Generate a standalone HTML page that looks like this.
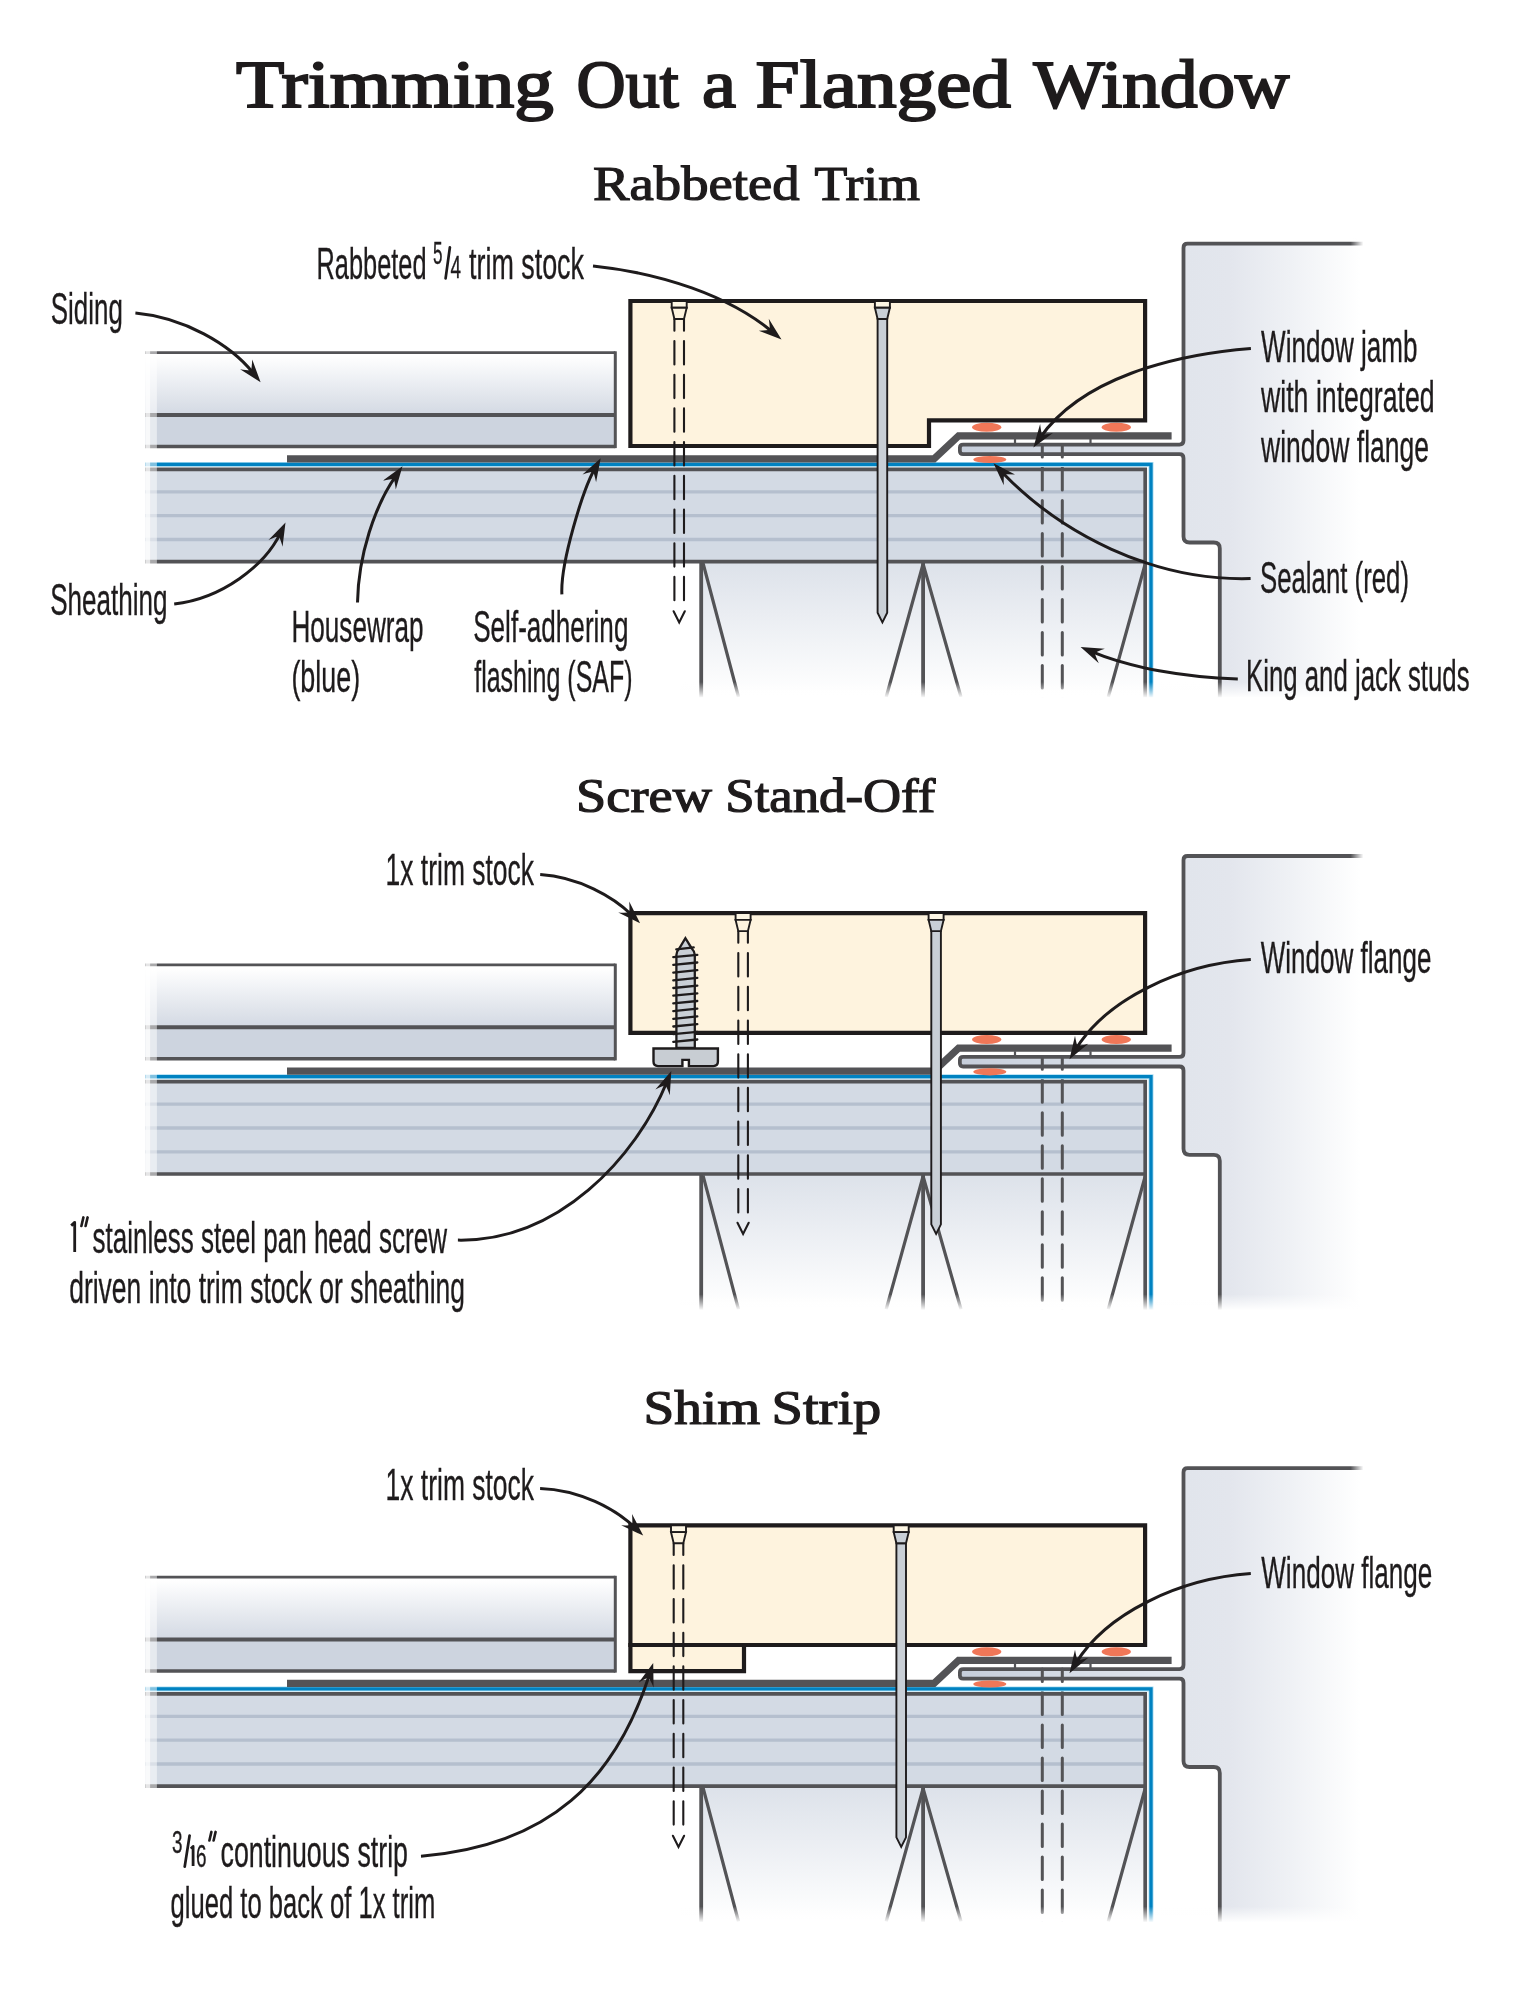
<!DOCTYPE html><html><head><meta charset="utf-8"><title>Trimming Out a Flanged Window</title>
<style>html,body{margin:0;padding:0;background:#fff;width:1523px;height:1999px;overflow:hidden}svg{display:block}text{font-family:"Liberation Sans",sans-serif;fill:#1e1b1c;stroke:#1e1b1c;stroke-width:0.35px}.t{font-family:"Liberation Serif",serif;font-weight:normal;stroke:#1e1b1c;stroke-width:2px}</style></head><body>
<svg width="1523" height="1999" viewBox="0 0 1523 1999">
<defs>
<linearGradient id="gfg" gradientUnits="userSpaceOnUse" x1="962" y1="0" x2="1182" y2="0"><stop offset="0" stop-color="#c6cedb"/><stop offset="0.5" stop-color="#d5dbe5"/><stop offset="1" stop-color="#e3e7ee"/></linearGradient>
<linearGradient id="gj" gradientUnits="userSpaceOnUse" x1="1186" y1="0" x2="1360" y2="0"><stop offset="0" stop-color="#e1e5ec"/><stop offset="0.25" stop-color="#e3e6ed"/><stop offset="0.6" stop-color="#eff1f5"/><stop offset="1" stop-color="#ffffff"/></linearGradient>
<linearGradient id="gs0" gradientUnits="userSpaceOnUse" x1="0" y1="564" x2="0" y2="695"><stop offset="0" stop-color="#dde2ea"/><stop offset="1" stop-color="#ffffff"/></linearGradient>
<linearGradient id="gs1" gradientUnits="userSpaceOnUse" x1="0" y1="1176.3" x2="0" y2="1307.3"><stop offset="0" stop-color="#dde2ea"/><stop offset="1" stop-color="#ffffff"/></linearGradient>
<linearGradient id="gs2" gradientUnits="userSpaceOnUse" x1="0" y1="1788.5" x2="0" y2="1919.5"><stop offset="0" stop-color="#dde2ea"/><stop offset="1" stop-color="#ffffff"/></linearGradient>
<linearGradient id="gsd" x1="0" y1="0" x2="0" y2="1"><stop offset="0.05" stop-color="#ffffff"/><stop offset="1" stop-color="#d3d9e3"/></linearGradient>
<linearGradient id="gfl" x1="0" y1="0" x2="1" y2="0"><stop offset="0.2" stop-color="#fff" stop-opacity="1"/><stop offset="0.9" stop-color="#fff" stop-opacity="0"/></linearGradient>
<linearGradient id="gfb" x1="0" y1="0" x2="0" y2="1"><stop offset="0" stop-color="#fff" stop-opacity="0"/><stop offset="1" stop-color="#fff" stop-opacity="1"/></linearGradient>
<linearGradient id="gfr" x1="0" y1="0" x2="1" y2="0"><stop offset="0.1" stop-color="#fff" stop-opacity="0"/><stop offset="0.9" stop-color="#fff" stop-opacity="1"/></linearGradient>
</defs>
<g style="will-change:transform">
<text class="t" x="236" y="106.5" font-size="68" textLength="317.9" lengthAdjust="spacingAndGlyphs">Trimming</text>
<text class="t" x="576.6" y="106.5" font-size="68" textLength="102" lengthAdjust="spacingAndGlyphs">Out</text>
<text class="t" x="702" y="106.5" font-size="68" textLength="34" lengthAdjust="spacingAndGlyphs">a</text>
<text class="t" x="755.6" y="106.5" font-size="68" textLength="255.4" lengthAdjust="spacingAndGlyphs">Flanged</text>
<text class="t" x="1033.5" y="106.5" font-size="68" textLength="255.9" lengthAdjust="spacingAndGlyphs">Window</text>
<text class="t" style="stroke-width:1.2px" x="593.1" y="200.2" font-size="47.5" textLength="206.6" lengthAdjust="spacingAndGlyphs">Rabbeted</text>
<text class="t" style="stroke-width:1.2px" x="814.6" y="200.2" font-size="47.5" textLength="105.4" lengthAdjust="spacingAndGlyphs">Trim</text>
<text class="t" style="stroke-width:1.2px" x="576.1" y="812" font-size="47.5" textLength="135.8" lengthAdjust="spacingAndGlyphs">Screw</text>
<text class="t" style="stroke-width:1.2px" x="725.3" y="812" font-size="47.5" textLength="210" lengthAdjust="spacingAndGlyphs">Stand-Off</text>
<text class="t" style="stroke-width:1.2px" x="643.4" y="1424" font-size="47.5" textLength="116.8" lengthAdjust="spacingAndGlyphs">Shim</text>
<text class="t" style="stroke-width:1.2px" x="771.5" y="1424" font-size="47.5" textLength="109.8" lengthAdjust="spacingAndGlyphs">Strip</text>
</g>
<path d="M1183.5 243.7 V444.6 H963.1 Q959.9 444.6 959.9 447.8 V451 Q959.9 454.2 963.1 454.2 H1183.5 V542.5 H1219.8 V700 H1400 V243.7 Z" fill="url(#gj)"/>
<rect x="962" y="446" width="219.5" height="7" fill="url(#gfg)"/>
<rect x="701" y="562" width="446" height="138" fill="url(#gs0)"/>
<path d="M701.2 562 V700 M923.1 562 V700" fill="none" stroke="#535356" stroke-width="3.8"/>
<path d="M703 563 L738.5 697 M923.1 564 L886.2 697 M923.1 564 L961 697 M1108.3 697 L1145.2 564" fill="none" stroke="#535356" stroke-width="3.2"/>
<rect x="145.3" y="469.3" width="999.9" height="92.2" fill="#d3dae4"/>
<path d="M140 491.8 H1145" stroke="#b5bfce" stroke-width="3.3"/>
<path d="M140 515.7 H1145" stroke="#b5bfce" stroke-width="3.3"/>
<path d="M140 539.5 H1145" stroke="#b5bfce" stroke-width="3.3"/>
<path d="M140 469.3 H1145.2 V700 M140 561.7 H1145.2" fill="none" stroke="#535356" stroke-width="3.7"/>
<path d="M1042.3 444.6 V700 M1062.3 444.6 V700" fill="none" stroke="#535356" stroke-width="3" stroke-dasharray="22.5 10.5" stroke-dashoffset="10.1" stroke-linecap="round"/>
<path d="M140 464.4 H1151 V700" fill="none" stroke="#a8dcf2" stroke-width="5"/>
<path d="M140 464.4 H1151 V700" fill="none" stroke="#0082c1" stroke-width="3.3"/>
<path d="M287 458.8 H934 L958.6 435.9 H1171.6" fill="none" stroke="#535356" stroke-width="7.2" stroke-linejoin="miter"/>
<rect x="140" y="352.6" width="475.3" height="62.3" fill="url(#gsd)"/>
<rect x="140" y="414.9" width="475.3" height="31.5" fill="#cdd4df"/>
<path d="M140 352.6 H615.3" stroke="#535356" stroke-width="2.6"/>
<path d="M140 414.9 H615.3" stroke="#535356" stroke-width="4"/>
<path d="M140 446.4 H615.3" stroke="#535356" stroke-width="3.5"/>
<path d="M615.3 351.3 V448.1" stroke="#535356" stroke-width="3"/>
<path d="M1365 243.7 H1187.5 Q1183.5 243.7 1183.5 247.7 V440.6 Q1183.5 444.6 1179.5 444.6 H963.1 Q959.9 444.6 959.9 447.8 V451 Q959.9 454.2 963.1 454.2 H1179.5 Q1183.5 454.2 1183.5 458.2 V536.5 Q1183.5 542.5 1189.5 542.5 H1213.8 Q1219.8 542.5 1219.8 548.5 V700" fill="none" stroke="#535356" stroke-width="3.8"/>
<path d="M1015 439 V444 M1090.5 439 V444" stroke="#535356" stroke-width="2.2"/>
<ellipse cx="986.7" cy="427.2" rx="14.6" ry="4.5" fill="#f07758"/>
<ellipse cx="1116.3" cy="427.2" rx="14.6" ry="4.5" fill="#f07758"/>
<ellipse cx="989.8" cy="459.5" rx="16.5" ry="3.6" fill="#f07758"/>
<path d="M630.4 301 H1145.1 V420.3 H929 V446 H630.4 Z" fill="#fef3de" stroke="#1e1b1c" stroke-width="4.2"/>
<path d="M674.4 319 V603.5 M684 319 V603.5" fill="none" stroke="#1e1b1c" stroke-width="2.1" stroke-dasharray="23.4 10.3" stroke-dashoffset="11.7" stroke-linecap="round"/><path d="M673.6 611.3 L679.2 622.5 L684.8 611.3" fill="none" stroke="#1e1b1c" stroke-width="2.1" stroke-linecap="round" stroke-linejoin="miter"/><path d="M671.7 301 H686.7 V307.8 H671.7 Z" fill="#fdf6e4" stroke="#1e1b1c" stroke-width="1.9"/><path d="M671.7 307.8 H686.7 L684 319 H674.4 Z" fill="#fdf3de" stroke="#1e1b1c" stroke-width="1.9"/>
<path d="M877.6 319 V612.7 L882.4 622.3 L887.2 612.7 V319 Z" fill="#c9cfd6" stroke="#1e1b1c" stroke-width="1.9" stroke-linejoin="miter"/><path d="M874.9 301 H889.9 V307.8 H874.9 Z" fill="#fdf6e4" stroke="#1e1b1c" stroke-width="1.9"/><path d="M874.9 307.8 H889.9 L887.2 319 H877.6 Z" fill="#c9cfd6" stroke="#1e1b1c" stroke-width="1.9"/>
<rect x="130" y="345" width="15.3" height="225" fill="#fff"/>
<rect x="145.3" y="345" width="5.1" height="225" fill="#fff" fill-opacity="0.85"/>
<rect x="150.4" y="345" width="6.5" height="225" fill="#fff" fill-opacity="0.5"/>
<rect x="680" y="682" width="720" height="16" fill="url(#gfb)"/>
<rect x="680" y="697.5" width="720" height="10" fill="#fff"/>
<rect x="1349" y="238" width="16" height="12" fill="url(#gfr)"/>
<path d="M1183.5 856 V1056.9 H963.1 Q959.9 1056.9 959.9 1060.1 V1063.3 Q959.9 1066.5 963.1 1066.5 H1183.5 V1154.8 H1219.8 V1312.3 H1400 V856 Z" fill="url(#gj)"/>
<rect x="962" y="1058.3" width="219.5" height="7" fill="url(#gfg)"/>
<rect x="701" y="1174.3" width="446" height="138" fill="url(#gs1)"/>
<path d="M701.2 1174.3 V1312.3 M923.1 1174.3 V1312.3" fill="none" stroke="#535356" stroke-width="3.8"/>
<path d="M703 1175.3 L738.5 1309.3 M923.1 1176.3 L886.2 1309.3 M923.1 1176.3 L961 1309.3 M1108.3 1309.3 L1145.2 1176.3" fill="none" stroke="#535356" stroke-width="3.2"/>
<rect x="145.3" y="1081.6" width="999.9" height="92.2" fill="#d3dae4"/>
<path d="M140 1104.1 H1145" stroke="#b5bfce" stroke-width="3.3"/>
<path d="M140 1128 H1145" stroke="#b5bfce" stroke-width="3.3"/>
<path d="M140 1151.8 H1145" stroke="#b5bfce" stroke-width="3.3"/>
<path d="M140 1081.6 H1145.2 V1312.3 M140 1174 H1145.2" fill="none" stroke="#535356" stroke-width="3.7"/>
<path d="M1042.3 1056.9 V1312.3 M1062.3 1056.9 V1312.3" fill="none" stroke="#535356" stroke-width="3" stroke-dasharray="22.5 10.5" stroke-dashoffset="10.1" stroke-linecap="round"/>
<path d="M140 1076.7 H1151 V1312.3" fill="none" stroke="#a8dcf2" stroke-width="5"/>
<path d="M140 1076.7 H1151 V1312.3" fill="none" stroke="#0082c1" stroke-width="3.3"/>
<path d="M287 1071.1 H934 L958.6 1048.2 H1171.6" fill="none" stroke="#535356" stroke-width="7.2" stroke-linejoin="miter"/>
<rect x="140" y="964.9" width="475.3" height="62.3" fill="url(#gsd)"/>
<rect x="140" y="1027.2" width="475.3" height="31.5" fill="#cdd4df"/>
<path d="M140 964.9 H615.3" stroke="#535356" stroke-width="2.6"/>
<path d="M140 1027.2 H615.3" stroke="#535356" stroke-width="4"/>
<path d="M140 1058.7 H615.3" stroke="#535356" stroke-width="3.5"/>
<path d="M615.3 963.6 V1060.4" stroke="#535356" stroke-width="3"/>
<path d="M1365 856 H1187.5 Q1183.5 856 1183.5 860 V1052.9 Q1183.5 1056.9 1179.5 1056.9 H963.1 Q959.9 1056.9 959.9 1060.1 V1063.3 Q959.9 1066.5 963.1 1066.5 H1179.5 Q1183.5 1066.5 1183.5 1070.5 V1148.8 Q1183.5 1154.8 1189.5 1154.8 H1213.8 Q1219.8 1154.8 1219.8 1160.8 V1312.3" fill="none" stroke="#535356" stroke-width="3.8"/>
<path d="M1015 1051.3 V1056.3 M1090.5 1051.3 V1056.3" stroke="#535356" stroke-width="2.2"/>
<ellipse cx="986.7" cy="1039.5" rx="14.6" ry="4.5" fill="#f07758"/>
<ellipse cx="1116.3" cy="1039.5" rx="14.6" ry="4.5" fill="#f07758"/>
<ellipse cx="989.8" cy="1071.8" rx="16.5" ry="3.6" fill="#f07758"/>
<path d="M630.4 913.1 H1145.1 V1032.8 H630.4 Z" fill="#fef3de" stroke="#1e1b1c" stroke-width="4.2"/>
<path d="M676.4 1048 V955 Q676.4 951.5 679.2 948.5 L685.4 938.2 L691.6 948.2 Q694.8 951.5 694.8 955 V1048 Z" fill="#c9cfd6" stroke="#1e1b1c" stroke-width="2.3"/>
<path d="M676.3 949.3 L693.7 947.3 M673.3 957.2 L697.3 954.8 M673.3 964.9 L697.3 962.5 M673.3 972.6 L697.3 970.2 M673.3 980.3 L697.3 977.9 M673.3 988 L697.3 985.6 M673.3 995.7 L697.3 993.3 M673.3 1003.4 L697.3 1001 M673.3 1011.1 L697.3 1008.7 M673.3 1018.8 L697.3 1016.4 M673.3 1026.5 L697.3 1024.1 M673.3 1034.2 L697.3 1031.8 M673.3 1041.9 L697.3 1039.5" fill="none" stroke="#1e1b1c" stroke-width="2.3" stroke-linecap="round"/>
<path d="M653.5 1048.5 H717.9 V1061.6 Q717.9 1066.1 713.4 1066.1 H688.9 V1059.9 H682.4 V1066.1 H658 Q653.5 1066.1 653.5 1061.6 Z" fill="#c8cdd3" stroke="#1e1b1c" stroke-width="2.4"/>
<path d="M738.3 931.1 V1215 M747.9 931.1 V1215" fill="none" stroke="#1e1b1c" stroke-width="2.1" stroke-dasharray="23.4 10.3" stroke-dashoffset="11.7" stroke-linecap="round"/><path d="M737.5 1222.8 L743.1 1234 L748.7 1222.8" fill="none" stroke="#1e1b1c" stroke-width="2.1" stroke-linecap="round" stroke-linejoin="miter"/><path d="M735.6 913.1 H750.6 V919.9 H735.6 Z" fill="#fdf6e4" stroke="#1e1b1c" stroke-width="1.9"/><path d="M735.6 919.9 H750.6 L747.9 931.1 H738.3 Z" fill="#fdf3de" stroke="#1e1b1c" stroke-width="1.9"/>
<path d="M931.3 931.1 V1224.4 L936.1 1234 L940.9 1224.4 V931.1 Z" fill="#c9cfd6" stroke="#1e1b1c" stroke-width="1.9" stroke-linejoin="miter"/><path d="M928.6 913.1 H943.6 V919.9 H928.6 Z" fill="#fdf6e4" stroke="#1e1b1c" stroke-width="1.9"/><path d="M928.6 919.9 H943.6 L940.9 931.1 H931.3 Z" fill="#c9cfd6" stroke="#1e1b1c" stroke-width="1.9"/>
<rect x="130" y="957.3" width="15.3" height="225" fill="#fff"/>
<rect x="145.3" y="957.3" width="5.1" height="225" fill="#fff" fill-opacity="0.85"/>
<rect x="150.4" y="957.3" width="6.5" height="225" fill="#fff" fill-opacity="0.5"/>
<rect x="680" y="1294.3" width="720" height="16" fill="url(#gfb)"/>
<rect x="680" y="1309.8" width="720" height="10" fill="#fff"/>
<rect x="1349" y="850.3" width="16" height="12" fill="url(#gfr)"/>
<path d="M1183.5 1468.2 V1669.1 H963.1 Q959.9 1669.1 959.9 1672.3 V1675.5 Q959.9 1678.7 963.1 1678.7 H1183.5 V1767 H1219.8 V1924.5 H1400 V1468.2 Z" fill="url(#gj)"/>
<rect x="962" y="1670.5" width="219.5" height="7" fill="url(#gfg)"/>
<rect x="701" y="1786.5" width="446" height="138" fill="url(#gs2)"/>
<path d="M701.2 1786.5 V1924.5 M923.1 1786.5 V1924.5" fill="none" stroke="#535356" stroke-width="3.8"/>
<path d="M703 1787.5 L738.5 1921.5 M923.1 1788.5 L886.2 1921.5 M923.1 1788.5 L961 1921.5 M1108.3 1921.5 L1145.2 1788.5" fill="none" stroke="#535356" stroke-width="3.2"/>
<rect x="145.3" y="1693.8" width="999.9" height="92.2" fill="#d3dae4"/>
<path d="M140 1716.3 H1145" stroke="#b5bfce" stroke-width="3.3"/>
<path d="M140 1740.2 H1145" stroke="#b5bfce" stroke-width="3.3"/>
<path d="M140 1764 H1145" stroke="#b5bfce" stroke-width="3.3"/>
<path d="M140 1693.8 H1145.2 V1924.5 M140 1786.2 H1145.2" fill="none" stroke="#535356" stroke-width="3.7"/>
<path d="M1042.3 1669.1 V1924.5 M1062.3 1669.1 V1924.5" fill="none" stroke="#535356" stroke-width="3" stroke-dasharray="22.5 10.5" stroke-dashoffset="10.1" stroke-linecap="round"/>
<path d="M140 1688.9 H1151 V1924.5" fill="none" stroke="#a8dcf2" stroke-width="5"/>
<path d="M140 1688.9 H1151 V1924.5" fill="none" stroke="#0082c1" stroke-width="3.3"/>
<path d="M287 1683.3 H934 L958.6 1660.4 H1171.6" fill="none" stroke="#535356" stroke-width="7.2" stroke-linejoin="miter"/>
<rect x="140" y="1577.1" width="475.3" height="62.3" fill="url(#gsd)"/>
<rect x="140" y="1639.4" width="475.3" height="31.5" fill="#cdd4df"/>
<path d="M140 1577.1 H615.3" stroke="#535356" stroke-width="2.6"/>
<path d="M140 1639.4 H615.3" stroke="#535356" stroke-width="4"/>
<path d="M140 1670.9 H615.3" stroke="#535356" stroke-width="3.5"/>
<path d="M615.3 1575.8 V1672.6" stroke="#535356" stroke-width="3"/>
<path d="M1365 1468.2 H1187.5 Q1183.5 1468.2 1183.5 1472.2 V1665.1 Q1183.5 1669.1 1179.5 1669.1 H963.1 Q959.9 1669.1 959.9 1672.3 V1675.5 Q959.9 1678.7 963.1 1678.7 H1179.5 Q1183.5 1678.7 1183.5 1682.7 V1761 Q1183.5 1767 1189.5 1767 H1213.8 Q1219.8 1767 1219.8 1773 V1924.5" fill="none" stroke="#535356" stroke-width="3.8"/>
<path d="M1015 1663.5 V1668.5 M1090.5 1663.5 V1668.5" stroke="#535356" stroke-width="2.2"/>
<ellipse cx="986.7" cy="1651.7" rx="14.6" ry="4.5" fill="#f07758"/>
<ellipse cx="1116.3" cy="1651.7" rx="14.6" ry="4.5" fill="#f07758"/>
<ellipse cx="989.8" cy="1684" rx="16.5" ry="3.6" fill="#f07758"/>
<path d="M630.4 1525.3 H1145.1 V1645 H630.4 Z" fill="#fef3de" stroke="#1e1b1c" stroke-width="4.2"/><path d="M630.4 1645 H744 V1671.2 H630.4 Z" fill="#fef3de" stroke="#1e1b1c" stroke-width="4.2"/>
<path d="M673.7 1543.3 V1828 M683.3 1543.3 V1828" fill="none" stroke="#1e1b1c" stroke-width="2.1" stroke-dasharray="23.4 10.3" stroke-dashoffset="11.7" stroke-linecap="round"/><path d="M672.9 1835.8 L678.5 1847 L684.1 1835.8" fill="none" stroke="#1e1b1c" stroke-width="2.1" stroke-linecap="round" stroke-linejoin="miter"/><path d="M671 1525.3 H686 V1532.1 H671 Z" fill="#fdf6e4" stroke="#1e1b1c" stroke-width="1.9"/><path d="M671 1532.1 H686 L683.3 1543.3 H673.7 Z" fill="#fdf3de" stroke="#1e1b1c" stroke-width="1.9"/>
<path d="M896.4 1543.3 V1837.4 L901.2 1847 L906 1837.4 V1543.3 Z" fill="#c9cfd6" stroke="#1e1b1c" stroke-width="1.9" stroke-linejoin="miter"/><path d="M893.7 1525.3 H908.7 V1532.1 H893.7 Z" fill="#fdf6e4" stroke="#1e1b1c" stroke-width="1.9"/><path d="M893.7 1532.1 H908.7 L906 1543.3 H896.4 Z" fill="#c9cfd6" stroke="#1e1b1c" stroke-width="1.9"/>
<rect x="130" y="1569.5" width="15.3" height="225" fill="#fff"/>
<rect x="145.3" y="1569.5" width="5.1" height="225" fill="#fff" fill-opacity="0.85"/>
<rect x="150.4" y="1569.5" width="6.5" height="225" fill="#fff" fill-opacity="0.5"/>
<rect x="680" y="1906.5" width="720" height="16" fill="url(#gfb)"/>
<rect x="680" y="1922" width="720" height="10" fill="#fff"/>
<rect x="1349" y="1462.5" width="16" height="12" fill="url(#gfr)"/>
<path d="M135.4 313 C183.93 317.32 230.15 344.43 253.07 372.86" fill="none" stroke="#1e1b1c" stroke-width="3.0" stroke-linecap="butt"/><path d="M260.6 382.2 L252.24 359.4 Q251.8 368.1 250.87 370.13 Q248.69 370.61 240.09 369.19 Z" fill="#1e1b1c"/>
<path d="M593 266 C660.97 273.01 728.57 295.55 772.26 331.74" fill="none" stroke="#1e1b1c" stroke-width="3.0" stroke-linecap="butt"/><path d="M781.5 339.4 L768.76 318.72 Q770.07 327.33 769.56 329.51 Q767.52 330.41 758.81 330.73 Z" fill="#1e1b1c"/>
<path d="M174.2 604 C222.02 598.6 264.88 565.48 280.3 533.41" fill="none" stroke="#1e1b1c" stroke-width="3.0" stroke-linecap="butt"/><path d="M285.5 522.6 L268.5 539.95 Q276.55 536.6 278.78 536.57 Q280.15 538.34 282.56 546.71 Z" fill="#1e1b1c"/>
<path d="M357.5 602.6 C358.28 554.79 375.08 505.66 395.65 476.05" fill="none" stroke="#1e1b1c" stroke-width="3.0" stroke-linecap="butt"/><path d="M402.5 466.2 L382.97 480.64 Q391.44 478.61 393.66 478.93 Q394.73 480.89 395.78 489.54 Z" fill="#1e1b1c"/>
<path d="M561.9 594.3 C560.2 563.32 583.26 488.83 594.75 468.72" fill="none" stroke="#1e1b1c" stroke-width="3.0" stroke-linecap="butt"/><path d="M600.7 458.3 L582.52 474.4 Q590.78 471.64 593.01 471.76 Q594.25 473.62 596.07 482.14 Z" fill="#1e1b1c"/>
<path d="M1250.9 348.4 C1171.91 354.61 1081.12 378.71 1040.25 437.54" fill="none" stroke="#1e1b1c" stroke-width="3.0" stroke-linecap="butt"/><path d="M1033.4 447.4 L1052.93 432.96 Q1044.46 434.99 1042.24 434.67 Q1041.17 432.71 1040.12 424.06 Z" fill="#1e1b1c"/>
<path d="M1250.6 578.5 C1151.99 581.42 1059.94 532.51 1001.81 471.96" fill="none" stroke="#1e1b1c" stroke-width="3.0" stroke-linecap="butt"/><path d="M993.5 463.3 L1003.8 485.29 Q1003.48 476.59 1004.23 474.48 Q1006.37 473.82 1015.06 474.49 Z" fill="#1e1b1c"/>
<path d="M1237.8 679 C1184.05 677.34 1130.27 667.93 1091.67 651.74" fill="none" stroke="#1e1b1c" stroke-width="3.0" stroke-linecap="butt"/><path d="M1080.6 647.1 L1098.8 663.19 Q1095.04 655.32 1094.89 653.09 Q1096.59 651.64 1104.83 648.8 Z" fill="#1e1b1c"/>
<path d="M540.2 874.5 C578.68 876.96 613.3 896.71 631.57 914.76" fill="none" stroke="#1e1b1c" stroke-width="3.0" stroke-linecap="butt"/><path d="M640.1 923.2 L629.23 901.48 Q629.77 910.18 629.08 912.3 Q626.96 913.02 618.26 912.58 Z" fill="#1e1b1c"/>
<path d="M457.9 1240.1 C558.62 1241.77 636.03 1157.21 666.75 1082.2" fill="none" stroke="#1e1b1c" stroke-width="3.0" stroke-linecap="butt"/><path d="M671.3 1071.1 L655.36 1089.43 Q663.19 1085.61 665.42 1085.44 Q666.9 1087.13 669.8 1095.34 Z" fill="#1e1b1c"/>
<path d="M1250.8 959.6 C1180.54 964.43 1107.42 998.19 1075.83 1049.1" fill="none" stroke="#1e1b1c" stroke-width="3.0" stroke-linecap="butt"/><path d="M1069.5 1059.3 L1088.25 1043.87 Q1079.9 1046.33 1077.67 1046.13 Q1076.5 1044.23 1075 1035.64 Z" fill="#1e1b1c"/>
<path d="M540.1 1488.4 C579.49 1489.61 615.44 1508.9 634.55 1527.28" fill="none" stroke="#1e1b1c" stroke-width="3.0" stroke-linecap="butt"/><path d="M643.2 1535.6 L632.03 1514.03 Q632.69 1522.72 632.03 1524.86 Q629.92 1525.6 621.22 1525.28 Z" fill="#1e1b1c"/>
<path d="M421 1856.3 C550.14 1845.74 615.71 1779.25 649.51 1674.52" fill="none" stroke="#1e1b1c" stroke-width="3.0" stroke-linecap="butt"/><path d="M653.2 1663.1 L638.71 1682.59 Q646.23 1678.19 648.44 1677.85 Q650.03 1679.42 653.56 1687.38 Z" fill="#1e1b1c"/>
<path d="M1250.8 1573.6 C1180.54 1578.43 1107.42 1612.19 1075.83 1663.1" fill="none" stroke="#1e1b1c" stroke-width="3.0" stroke-linecap="butt"/><path d="M1069.5 1673.3 L1088.25 1657.87 Q1079.9 1660.33 1077.67 1660.13 Q1076.5 1658.23 1075 1649.64 Z" fill="#1e1b1c"/>
<g style="will-change:transform">
<text x="50.8" y="323.9" font-size="44" textLength="72" lengthAdjust="spacingAndGlyphs">Siding</text>
<text x="316.5" y="279.1" font-size="44" textLength="110" lengthAdjust="spacingAndGlyphs">Rabbeted</text>
<text x="433" y="263.6" font-size="30.5" textLength="9.5" lengthAdjust="spacingAndGlyphs">5</text>
<text x="450.5" y="278.4" font-size="30.5" textLength="10.5" lengthAdjust="spacingAndGlyphs">4</text>
<text x="469" y="279.1" font-size="44" textLength="115" lengthAdjust="spacingAndGlyphs">trim stock</text>
<text x="50.2" y="615.3" font-size="44" textLength="117.4" lengthAdjust="spacingAndGlyphs">Sheathing</text>
<text x="291.4" y="641.8" font-size="44" textLength="132.2" lengthAdjust="spacingAndGlyphs">Housewrap</text>
<text x="291.4" y="691.7" font-size="44" textLength="68.8" lengthAdjust="spacingAndGlyphs">(blue)</text>
<text x="473.2" y="641.8" font-size="44" textLength="155.2" lengthAdjust="spacingAndGlyphs">Self-adhering</text>
<text x="474.2" y="691.7" font-size="44" textLength="158.4" lengthAdjust="spacingAndGlyphs">flashing (SAF)</text>
<text x="1261" y="361.7" font-size="44" textLength="156.6" lengthAdjust="spacingAndGlyphs">Window jamb</text>
<text x="1261" y="411.5" font-size="44" textLength="173.6" lengthAdjust="spacingAndGlyphs">with integrated</text>
<text x="1261" y="462" font-size="44" textLength="168" lengthAdjust="spacingAndGlyphs">window flange</text>
<text x="1260" y="592.5" font-size="44" textLength="149" lengthAdjust="spacingAndGlyphs">Sealant (red)</text>
<text x="1246" y="691.4" font-size="44" textLength="223.6" lengthAdjust="spacingAndGlyphs">King and jack studs</text>
<text x="385.6" y="885.3" font-size="44" textLength="148.4" lengthAdjust="spacingAndGlyphs">1x trim stock</text>
<text x="92.5" y="1252.5" font-size="44" textLength="354.5" lengthAdjust="spacingAndGlyphs">stainless steel pan head screw</text>
<text x="69.2" y="1302.8" font-size="44" textLength="395.8" lengthAdjust="spacingAndGlyphs">driven into trim stock or sheathing</text>
<text x="1260.8" y="972.9" font-size="44" textLength="170.6" lengthAdjust="spacingAndGlyphs">Window flange</text>
<text x="385.6" y="1499.7" font-size="44" textLength="148.4" lengthAdjust="spacingAndGlyphs">1x trim stock</text>
<text x="172" y="1852.6" font-size="30.5" textLength="10.5" lengthAdjust="spacingAndGlyphs">3</text>
<text x="196" y="1866.6" font-size="30.5" textLength="10.5" lengthAdjust="spacingAndGlyphs">6</text>
<text x="220.5" y="1866.6" font-size="44" textLength="187.5" lengthAdjust="spacingAndGlyphs">continuous strip</text>
<text x="170.6" y="1917.8" font-size="44" textLength="264.6" lengthAdjust="spacingAndGlyphs">glued to back of 1x trim</text>
<text x="1261.2" y="1587.5" font-size="44" textLength="171.2" lengthAdjust="spacingAndGlyphs">Window flange</text>
</g>
<path d="M445.6 278.4 L449.9 247.3 M184.7 1866.7 L189.6 1835.5" stroke="#1e1b1c" stroke-width="2.7" stroke-linecap="round" fill="none"/>
<path d="M74.7 1252 V1222.4 L71.2 1225.6 M193.1 1866 V1846.4 L190.9 1848.8" stroke="#1e1b1c" stroke-width="2.8" stroke-linecap="butt" stroke-linejoin="round" fill="none"/>
<path d="M81.4 1226 L83.4 1217.4 M85.6 1226 L87.6 1217.4 M209.4 1840.5 L211.4 1831.9 M213.6 1840.5 L215.6 1831.9" stroke="#1e1b1c" stroke-width="2.6" stroke-linecap="round" fill="none"/>
</svg></body></html>
